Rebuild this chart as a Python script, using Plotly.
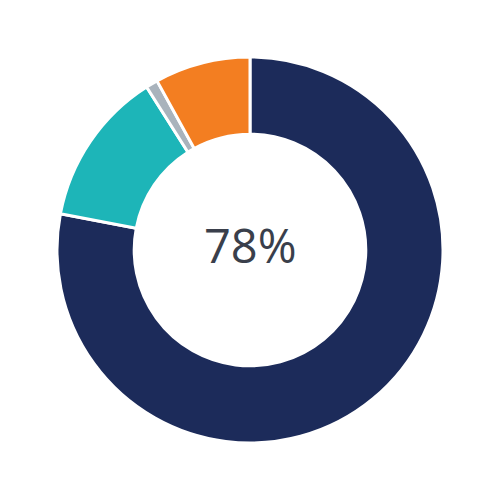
import plotly.graph_objects as go

labels = ["Navy", "Teal", "Grey", "Orange"]
values = [78, 13, 1, 8]
colors = ["#1c2b5a", "#1db5b8", "#a9b3bc", "#f37e21"]
center_text = "78%"

fig = go.Figure(
    go.Pie(
        labels=labels,
        values=values,
        hole=0.6,
        sort=False,
        direction="clockwise",
        rotation=0,
        marker=dict(colors=colors, line=dict(color="white", width=3)),
        textinfo="none",
        hoverinfo="label+percent",
        showlegend=False,
    )
)

# page body adds ~8px offset, so shift the margins to keep the ring centred
fig.update_layout(
    width=500,
    height=500,
    margin=dict(l=49, r=65, t=49, b=65),
    paper_bgcolor="white",
    plot_bgcolor="white",
    annotations=[
        dict(
            text=center_text,
            x=0.5,
            y=0.513,
            xref="paper",
            yref="paper",
            showarrow=False,
            font=dict(family="Open Sans", size=47, color="#3a3f4b"),
        )
    ],
)

fig.write_html("out.html")
